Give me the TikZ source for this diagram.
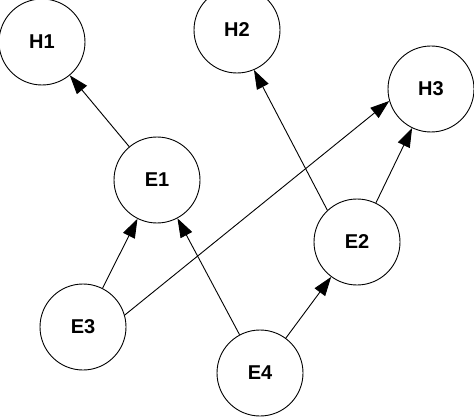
\documentclass[tikz,border=0pt]{standalone}
\usepackage{fontspec}
\setmainfont{Liberation Sans}
\usetikzlibrary{arrows.meta}
\tikzset{
    var/.style={circle, draw=black, fill=white, line width=0.9pt, minimum size=86pt, inner sep=0pt, font=\fontsize{20}{24}\selectfont\bfseries},
    edge/.style={-{Triangle[length=19pt,width=13pt]}, line width=0.9pt}
}
\begin{document}
\begin{tikzpicture}[x=1pt,y=-1pt]
                \useasboundingbox (0,0) rectangle (474,417);
                \node[var] (h1) at (42,42) {H1};
                \node[var] (h2) at (237,30) {H2};
                \node[var] (h3) at (431,89) {H3};
                \node[var] (e1) at (157,180) {E1};
                \node[var] (e2) at (357,242) {E2};
                \node[var] (e3) at (83,327) {E3};
                \node[var] (e4) at (260,373) {E4};
                
                \foreach \a/\b in {e1/h1,e3/e1,e4/e1,e4/e2,e2/h3}
                {
                    \draw[edge] (\a) -- (\b);
                }
                \draw[edge] (e2.133) -- (h2.293);
                \draw[edge] (e3.16) -- (h3.196);
                
            \end{tikzpicture}
\end{document}
